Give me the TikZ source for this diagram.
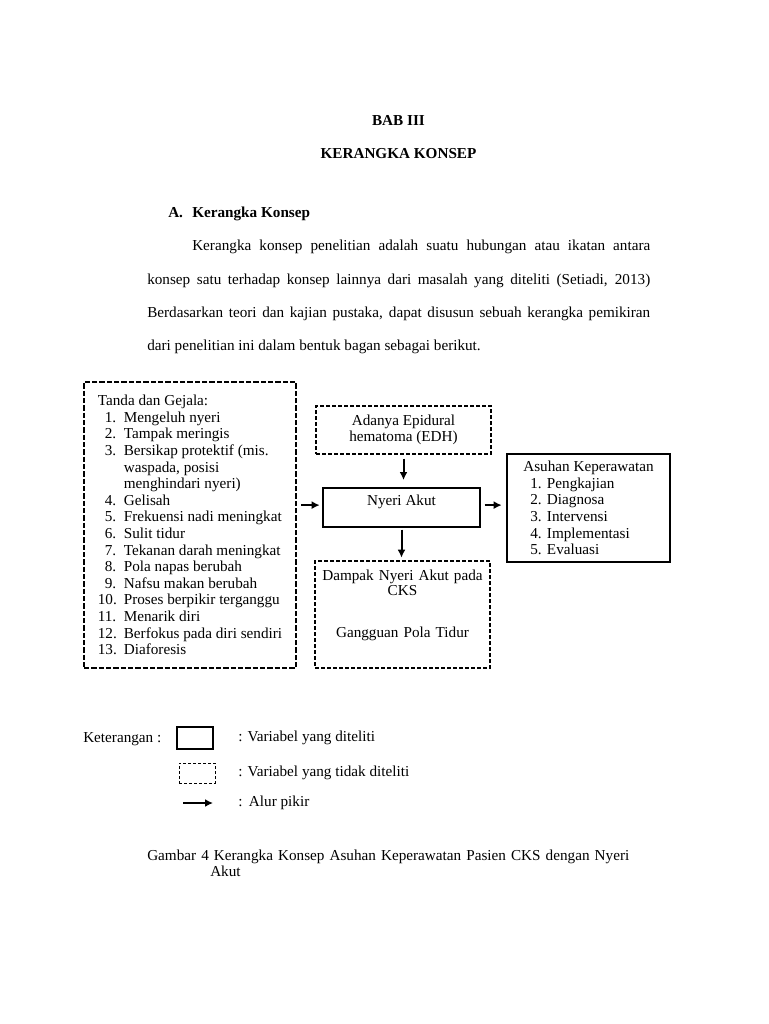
\documentclass[tikz,border=0pt]{standalone}
\usepackage{fontspec}
\setmainfont{Liberation Serif}
\usetikzlibrary{positioning,arrows.meta}
\newlength\px
\setlength\px{0.75pt}
\newcommand\butir[1]{\makebox[26\px][l]{\hspace{7\px}#1}}
\newcommand\butirx[1]{\makebox[26\px][l]{#1}}
\newcommand\langkah[1]{\makebox[23.7\px][l]{\hspace{7\px}#1}}

\begin{document}
\begin{tikzpicture}[x=0.75pt,y=-0.75pt,
    font=\fontsize{11.4}{12.45}\selectfont,
    teks/.style={inner sep=0pt,anchor=base west},
    tebal/.style={inner sep=0pt,font=\fontsize{11.4}{12.45}\selectfont\bfseries},
    kotak/.style={draw,rectangle,line width=2pt,inner sep=0pt},
    putus/.style={draw,rectangle,line width=1pt,dash pattern=on 3pt off 1.5pt,inner sep=0pt},
    alur/.style={line width=1.5pt,-{Latex[length=6pt,width=6pt]}}]

    % Page
    \fill[white] (0,0) rectangle (768,1024);
    \useasboundingbox (0,0) rectangle (768,1024);

    % Headings
    \node[tebal,anchor=base] (bab) at (398.5,125) {BAB III};
    \node[tebal,anchor=base] (judul) at (398.5,158) {KERANGKA KONSEP};
    \node[tebal,anchor=base west] (subjudul) at (168,217) {\makebox[24\px][l]{A.}Kerangka Konsep};

    % Paragraph
    \node[teks,text width=377.25pt,align=justify,font=\fontsize{11.4}{25}\selectfont] (paragraf) at (147,250.7) {\hspace*{45\px}Kerangka konsep penelitian adalah suatu hubungan atau ikatan antara\linebreak
        konsep satu terhadap konsep lainnya dari masalah yang diteliti (Setiadi, 2013)\linebreak
        Berdasarkan teori dan kajian pustaka, dapat disusun sebuah kerangka pemikiran\linebreak
        dari penelitian ini dalam bentuk bagan sebagai berikut.};

    % Tanda dan gejala
    \node[putus,line width=1.5pt,dash pattern=on 4pt off 1.5pt,minimum width=159pt,minimum height=214.5pt,align=left] (tanda) at (190,525) {
        Tanda dan Gejala:\\
        \butir{1.}Mengeluh nyeri\\
        \butir{2.}Tampak meringis\\
        \butir{3.}Bersikap protektif (mis.\\
        \hspace*{26\px}waspada, posisi\\
        \hspace*{26\px}menghindari nyeri)\\
        \butir{4.}Gelisah\\
        \butir{5.}Frekuensi nadi meningkat\\
        \butir{6.}Sulit tidur\\
        \butir{7.}Tekanan darah meningkat\\
        \butir{8.}Pola napas berubah\\
        \butir{9.}Nafsu makan berubah\\
        \butirx{10.}Proses berpikir terganggu\\
        \butirx{11.}Menarik diri\\
        \butirx{12.}Berfokus pada diri sendiri\\
        \butirx{13.}Diaforesis};

    % Adanya EDH
    \node[putus,minimum width=131.25pt,minimum height=36pt,align=center] (edh) at (403.5,430) {Adanya Epidural\\hematoma (EDH)};

    % Nyeri akut
    \node[kotak,minimum width=117.75pt,minimum height=29.25pt,text depth=11.5pt] (nyeri) at (401.5,507.5) {Nyeri Akut};

    % Asuhan keperawatan
    \node[kotak,minimum width=122.25pt,minimum height=81pt,align=left] (asuhan) at (588.5,508) {
        Asuhan Keperawatan\\
        \langkah{1.}Pengkajian\\
        \langkah{2.}Diagnosa\\
        \langkah{3.}Intervensi\\
        \langkah{4.}Implementasi\\
        \langkah{5.}Evaluasi};

    % Dampak nyeri akut
    \node[putus,minimum width=131.25pt,minimum height=80.25pt,text width=128pt,align=center,text depth=59.5pt] (dampak) at (402.5,614.5) {Dampak Nyeri Akut pada\\[-1.2pt]CKS\\[19.6pt]Gangguan Pola Tidur};

    % Alur pikir
    \draw[alur,shorten <=3pt,shorten >=1.5pt] (tanda.east |- nyeri.base) -- (nyeri.base -| nyeri.west);
    \draw[alur,shorten <=2.5pt,shorten >=3pt] (nyeri.base -| nyeri.east) -- (nyeri.base -| asuhan.west);
    \draw[alur,shorten <=3pt,shorten >=5pt] (edh.south) -- (edh.south |- nyeri.north);
    \draw[alur,shorten <=1pt,shorten >=2pt] (nyeri.south) -- (nyeri.south |- dampak.north);

    % Keterangan
    \node[teks] (ket) at (83,742.3) {Keterangan :};
    \node[kotak,minimum width=27pt,minimum height=16.5pt] (lgkotak) at (195,738) {};
    \node[putus,line width=0.75pt,dash pattern=on 2.5pt off 1.25pt,minimum width=27pt,minimum height=15pt] (lgputus) at (197,773) {};
    \coordinate (lgawal) at (183,803);
    \coordinate (lgakhir) at (213,803);
    \draw[alur] (lgawal) -- (lgakhir);
    \node[teks] (lgditeliti) at (238,741.7) {: Variabel yang diteliti};
    \node[teks] (lgtidak) at (238,776.7) {: Variabel yang tidak diteliti};
    \node[teks] (lgalur) at (238,806.7) {:\hspace{6.5\px}Alur pikir};

    % Caption
    \node[teks,text width=450pt,align=left,font=\fontsize{11.4}{12}\selectfont] (gambar) at (147,860.7) {Gambar 4 Kerangka Konsep Asuhan Keperawatan Pasien CKS dengan Nyeri\\
        \hspace*{63\px}Akut};
\end{tikzpicture}
\end{document}
